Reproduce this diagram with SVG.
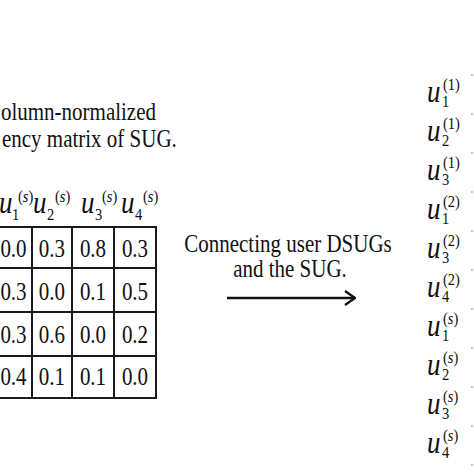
<svg xmlns="http://www.w3.org/2000/svg" width="474" height="474" viewBox="0 0 474 474">
<style>
text{font-family:"Liberation Serif","Times New Roman",serif;fill:#111}
.t{font-size:21px}
.c{font-size:21px;text-anchor:middle}
.u{font-size:27px;font-style:italic}
.s{font-size:14.5px}
.grid{stroke:#1a1a1a;stroke-width:2;fill:none}
.tick{stroke:#aaa;stroke-width:1.5}
</style>
<defs>
<marker id="arr" viewBox="0 0 12 16" refX="11" refY="8" markerWidth="12" markerHeight="16" markerUnits="userSpaceOnUse" orient="auto">
<path d="M1 1 L11 8 L1 15" fill="none" stroke="#111" stroke-width="2.2"/>
</marker>
</defs>
<rect width="474" height="474" fill="#fff"/>
<path id="matrix-grid" class="grid" d="M-10 227H156V398H-10M-10 268H156M-10 312H156M-10 356H156M32 227V398M72 227V398M114 227V398"/>
<g id="connectors">
<line x1="227" y1="298" x2="355" y2="298" stroke="#111" stroke-width="2.5" marker-end="url(#arr)"/>
</g>
<g id="ticks">
<path class="tick" d="M471 75h2M471 114h2M471 153h2M471 192h2M471 231h2M471 270h2M471 309h2M471 348h2M471 387h2M471 426h2M471 465h2"/>
</g>
<g transform="scale(1,1.15)">
<g id="title">
<text class="t" x="1" y="104.35">olumn-normalized</text>
<text class="t" x="2" y="127.83">ency matrix of SUG.</text>
</g>
<g id="headers">
<text class="u" x="-1" y="185.22">u</text><text class="s" x="12" y="191.3">1</text><text class="s" x="18" y="175.65">(<tspan font-style="italic">s</tspan>)</text>
<text class="u" x="33" y="185.22">u</text><text class="s" x="47" y="191.3">2</text><text class="s" x="55" y="175.65">(<tspan font-style="italic">s</tspan>)</text>
<text class="u" x="81" y="185.22">u</text><text class="s" x="95" y="191.3">3</text><text class="s" x="102" y="175.65">(<tspan font-style="italic">s</tspan>)</text>
<text class="u" x="121" y="185.22">u</text><text class="s" x="135" y="191.3">4</text><text class="s" x="143" y="175.65">(<tspan font-style="italic">s</tspan>)</text>
</g>
<g id="cells">
<text class="c" x="13.5" y="223.48">0.0</text><text class="c" x="52" y="223.48">0.3</text><text class="c" x="93" y="223.48">0.8</text><text class="c" x="135" y="223.48">0.3</text>
<text class="c" x="13.5" y="260.87">0.3</text><text class="c" x="52" y="260.87">0.0</text><text class="c" x="93" y="260.87">0.1</text><text class="c" x="135" y="260.87">0.5</text>
<text class="c" x="13.5" y="298.26">0.3</text><text class="c" x="52" y="298.26">0.6</text><text class="c" x="93" y="298.26">0.0</text><text class="c" x="135" y="298.26">0.2</text>
<text class="c" x="13.5" y="334.78">0.4</text><text class="c" x="52" y="334.78">0.1</text><text class="c" x="93" y="334.78">0.1</text><text class="c" x="135" y="334.78">0.0</text>
</g>
<g id="arrow-label">
<text class="c" x="288" y="219.13">Connecting user DSUGs</text>
<text class="c" x="290" y="240.87">and the SUG.</text>
</g>
<g id="list">
<text class="u" x="427" y="88.7">u</text><text class="s" x="442" y="93.04">1</text><text class="s" x="443" y="78.26">(1)</text>
<text class="u" x="427" y="122.61">u</text><text class="s" x="442" y="126.96">2</text><text class="s" x="443" y="112.17">(1)</text>
<text class="u" x="427" y="156.52">u</text><text class="s" x="442" y="160.87">3</text><text class="s" x="443" y="146.09">(1)</text>
<text class="u" x="427" y="190.43">u</text><text class="s" x="442" y="194.78">1</text><text class="s" x="443" y="180">(2)</text>
<text class="u" x="427" y="224.35">u</text><text class="s" x="442" y="228.7">3</text><text class="s" x="443" y="213.91">(2)</text>
<text class="u" x="427" y="258.26">u</text><text class="s" x="442" y="262.61">4</text><text class="s" x="443" y="247.83">(2)</text>
<text class="u" x="427" y="292.17">u</text><text class="s" x="442" y="296.52">1</text><text class="s" x="443" y="281.74">(<tspan font-style="italic">s</tspan>)</text>
<text class="u" x="427" y="326.09">u</text><text class="s" x="442" y="330.43">2</text><text class="s" x="443" y="315.65">(<tspan font-style="italic">s</tspan>)</text>
<text class="u" x="427" y="360">u</text><text class="s" x="442" y="364.35">3</text><text class="s" x="443" y="349.57">(<tspan font-style="italic">s</tspan>)</text>
<text class="u" x="427" y="393.91">u</text><text class="s" x="442" y="398.26">4</text><text class="s" x="443" y="383.48">(<tspan font-style="italic">s</tspan>)</text>
</g>
</g>
</svg>
